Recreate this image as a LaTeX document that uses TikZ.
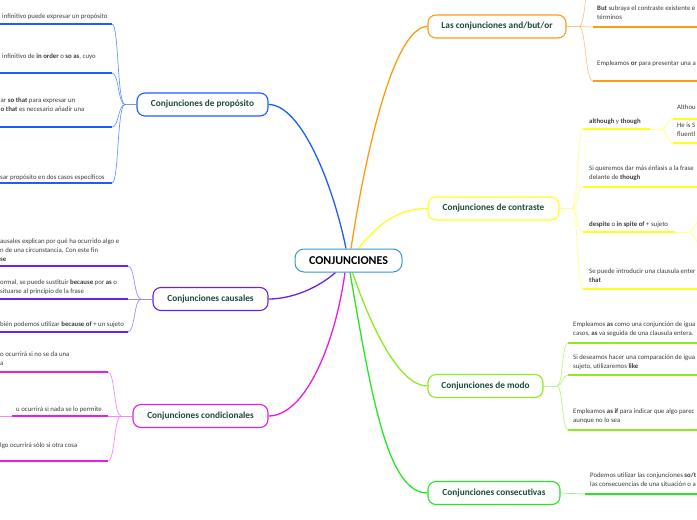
\documentclass[tikz,border=0pt]{standalone}
\usepackage{fontspec}
\setmainfont{Carlito}
\usetikzlibrary{backgrounds}
\definecolor{cblue}{HTML}{1F5BFF}
\definecolor{cbluel}{HTML}{6F95FF}
\definecolor{cpur}{HTML}{6A22E6}
\definecolor{cpurl}{HTML}{A986F2}
\definecolor{cmag}{HTML}{E41EE4}
\definecolor{cmagl}{HTML}{F58AF5}
\definecolor{corg}{HTML}{FF9A17}
\definecolor{corgl}{HTML}{FFC77A}
\definecolor{cyel}{HTML}{FFFF1E}
\definecolor{cyell}{HTML}{FFFF8A}
\definecolor{clim}{HTML}{8CEB21}
\definecolor{climl}{HTML}{BDF584}
\definecolor{cgrn}{HTML}{26E626}
\definecolor{cgrnl}{HTML}{8FF08F}
\definecolor{ccen}{HTML}{3A94D6}
\definecolor{ttext}{HTML}{1B4B3C}
\definecolor{btext}{HTML}{3C3C3C}
\begin{document}
\begin{tikzpicture}[x=1pt,y=-1pt,
  cen/.style={draw=ccen, line width=1pt, rounded corners=9pt, fill=white, inner sep=0pt,
    minimum width=107pt, minimum height=23pt, font=\fontsize{12}{14}\selectfont\bfseries, text=black},
  topic/.style={line width=1.1pt, rounded corners=8pt, fill=white, inner sep=0pt,
    minimum height=23pt, font=\fontsize{9.3}{11}\selectfont\bfseries, text=ttext},
  item/.style={anchor=north west, inner sep=0pt, align=left,
    font=\fontsize{6.8}{9}\selectfont, text=btext, execute at begin node=\strut},
  mainlink/.style={line width=1.3pt},
  sublink/.style={line width=0.7pt},
  uline/.style={line width=1.5pt},
]
\useasboundingbox (0,0) rectangle (697,520);
\clip (0,0) rectangle (697,520);

% central and topic nodes
\node[cen] (c) at (348.5,260.5) {CONJUNCIONES};
\node[topic, draw=cblue, minimum width=131pt] (prop) at (202.5,104.5) {Conjunciones de propósito};
\node[topic, draw=cpur, minimum width=115pt] (cau) at (210.5,299) {Conjunciones causales};
\node[topic, draw=cmag, minimum width=135pt] (cond) at (200.5,416) {Conjunciones condicionales};
\node[topic, draw=corg, minimum width=138pt] (abo) at (497,26.5) {Las conjunciones and/but/or};
\node[topic, draw=cyel, minimum width=131pt] (con) at (493.5,208.5) {Conjunciones de contraste};
\node[topic, draw=clim, minimum width=115pt] (modo) at (485.5,386) {Conjunciones de modo};
\node[topic, draw=cgrn, minimum width=132pt] (cons) at (494,493) {Conjunciones consecutivas};

% item texts
\node[item] (p1) at (2,12.2) {infinitivo puede expresar un propósito};
\node[item] (p2) at (2,52.2) {infinitivo de \textbf{in order} o \textbf{so as}, cuyo};
\node[item] (p3) at (0.5,97.2) {ar \textbf{so that} para expresar un\\\textbf{o that} es necesario añadir una};
\node[item] (p4) at (0,173.2) {sar propósito en dos casos específicos};

\node[item] (k1) at (0,238.2) {ausales explican por qué ha ocurrido algo e\\n de una circunstancia. Con este fin\\\textbf{se}};
\node[item] (k2) at (0,279.2) {ormal, se puede sustituir \textbf{because} por \textbf{as} o\\situarse al principio de la frase};
\node[item] (k3) at (0,320.2) {bién podemos utilizar \textbf{because of} + un sujeto};

\node[item] (d1) at (0,351.2) {o ocurrirá si no se da una\\a};
\node[item] (d2) at (16,405.2) {u ocurrirá si nada se lo permite};
\node[item] (d3) at (0,441.2) {lgo ocurrirá sólo si otra cosa};

\node[item] (o1) at (597,5.2) {\textbf{But} subraya el contraste existente e\\términos};
\node[item] (o2) at (597,59.2) {Empleamos \textbf{or} para presentar una a};

\node[item] (y1) at (589,117.2) {\textbf{although} y \textbf{though}};
\node[item] (y1a) at (677,103.2) {Althou};
\node[item] (y1b) at (677,122.2) {He is S\\fluentl};
\node[item] (y2) at (589,165.2) {Si queremos dar más énfasis a la frase\\delante de \textbf{though}};
\node[item] (y3) at (589,220.2) {\textbf{despite} o \textbf{in spite of} + sujeto};
\node[item] (y4) at (589,268.2) {Se puede introducir una clausula enter\\\textbf{that}};

\node[item] (m1) at (573,321.2) {Empleamos \textbf{as} como una conjunción de igua\\casos, \textbf{as} va seguida de una clausula entera.};
\node[item] (m2) at (573,354.2) {Si deseamos hacer una comparación de igua\\sujeto, utilizaremos \textbf{like}};
\node[item] (m3) at (573,408.2) {Empleamos \textbf{as if} para indicar que algo parec\\aunque no lo sea};

\node[item] (g1) at (590,472.2) {Podemos utilizar las conjunciones \textbf{so/t}\\las consecuencias de una situación o a};

% coordinates
\coordinate (pj) at (125,104.5);
\coordinate (p1e) at (112,24);  \coordinate (p1s) at (0,24);
\coordinate (p2e) at (112,73);  \coordinate (p2s) at (0,73);
\coordinate (p3e) at (112,127); \coordinate (p3s) at (0,127);
\coordinate (p4e) at (112,183); \coordinate (p4s) at (0,183);

\coordinate (kj) at (141,299);
\coordinate (k1e) at (128,266); \coordinate (k1s) at (0,266);
\coordinate (k2e) at (128,299); \coordinate (k2s) at (0,299);
\coordinate (k3e) at (128,332); \coordinate (k3s) at (0,332);

\coordinate (dj) at (121,416);
\coordinate (d1e) at (108,372); \coordinate (d1s) at (0,372);
\coordinate (d2e) at (108,416); \coordinate (d2s) at (12,416); \coordinate (d2x) at (0,416);
\coordinate (d3e) at (108,461); \coordinate (d3s) at (0,461);

\coordinate (oj) at (579,26.5);
\coordinate (o0s) at (593,-27);
\coordinate (o1s) at (593,27);  \coordinate (o1e) at (697,27);
\coordinate (o2s) at (593,81);  \coordinate (o2e) at (697,81);

\coordinate (yj) at (572,208.5);
\coordinate (y1s) at (583,129); \coordinate (y1e) at (650,129);
\coordinate (y1j) at (661,129);
\coordinate (y1as) at (673,119); \coordinate (y1ae) at (697,119);
\coordinate (y1bs) at (673,143); \coordinate (y1be) at (697,143);
\coordinate (y2s) at (583,187); \coordinate (y2e) at (697,187);
\coordinate (y3s) at (583,232); \coordinate (y3e) at (675,232);
\coordinate (y3j) at (688,232);
\coordinate (y3u) at (706,216); \coordinate (y3d) at (706,248);
\coordinate (y4s) at (583,289); \coordinate (y4e) at (697,289);

\coordinate (mj) at (557,386);
\coordinate (m1s) at (568,343); \coordinate (m1e) at (697,343);
\coordinate (m2s) at (568,375); \coordinate (m2e) at (697,375);
\coordinate (m3s) at (568,430); \coordinate (m3e) at (697,430);

\coordinate (g1s) at (585,494); \coordinate (g1e) at (697,494);

\begin{scope}[on background layer]
% main links
\draw[mainlink, cblue] ([xshift=-2.5pt]c.north) .. controls (332,180) and (300,104.5) .. (prop.east);
\draw[mainlink, corg] ([xshift=2.5pt]c.north) .. controls (370,125) and (398,26.5) .. (abo.west);
\draw[mainlink, cyel] ([xshift=10pt]c.north) .. controls (375,228) and (395,208.5) .. (con.west);
\draw[mainlink, cpur] ([xshift=-13pt]c.south) .. controls (318,288) and (292,299) .. (cau.east);
\draw[mainlink, cmag] ([xshift=-3.5pt]c.south) .. controls (335,345) and (305,416) .. (cond.east);
\draw[mainlink, clim] ([xshift=4pt]c.south) .. controls (372,330) and (400,386) .. (modo.west);
\draw[mainlink, cgrn] ([xshift=1.5pt]c.south) .. controls (372,400) and (388,493) .. (cons.west);

% proposito
\draw[sublink, cbluel] (prop.west) -- (pj);
\draw[sublink, cbluel] (pj) .. controls (117,104.5) and (119,24) .. (p1e);
\draw[sublink, cbluel] (pj) .. controls (118,104.5) and (119,73) .. (p2e);
\draw[sublink, cbluel] (pj) .. controls (118,104.5) and (119,127) .. (p3e);
\draw[sublink, cbluel] (pj) .. controls (117,104.5) and (119,183) .. (p4e);

% causales
\draw[sublink, cpurl] (cau.west) -- (kj);
\draw[sublink, cpurl] (kj) .. controls (134,299) and (135,266) .. (k1e);
\draw[sublink, cpurl] (kj) -- (k2e);
\draw[sublink, cpurl] (kj) .. controls (134,299) and (135,332) .. (k3e);

% condicionales
\draw[sublink, cmagl] (cond.west) -- (dj);
\draw[sublink, cmagl] (dj) .. controls (114,416) and (115,372) .. (d1e);
\draw[sublink, cmagl] (dj) -- (d2e);
\draw[sublink, cmagl] (dj) .. controls (114,416) and (115,461) .. (d3e);
\draw[sublink, cmagl] (d2x) -- (d2s);

% and/but/or
\draw[sublink, corgl] (abo.east) -- (oj);
\draw[sublink, corgl] (oj) .. controls (586,26.5) and (585,-27) .. (o0s);
\draw[sublink, corgl] (oj) -- (o1s);
\draw[sublink, corgl] (oj) .. controls (586,26.5) and (585,81) .. (o2s);

% contraste
\draw[sublink, cyell] (con.east) -- (yj);
\draw[sublink, cyell] (yj) .. controls (578,208.5) and (577,129) .. (y1s);
\draw[sublink, cyell] (yj) .. controls (578,208.5) and (577,187) .. (y2s);
\draw[sublink, cyell] (yj) .. controls (578,208.5) and (577,232) .. (y3s);
\draw[sublink, cyell] (yj) .. controls (578,208.5) and (577,289) .. (y4s);
\draw[sublink, cyell] (y1e) -- (y1j);
\draw[sublink, cyell] (y1j) .. controls (667,129) and (667,119) .. (y1as);
\draw[sublink, cyell] (y1j) .. controls (667,129) and (667,143) .. (y1bs);
\draw[sublink, cyell] (y3e) -- (y3j);
\draw[sublink, cyell] (y3j) .. controls (695,232) and (696,216) .. (y3u);
\draw[sublink, cyell] (y3j) .. controls (695,232) and (696,248) .. (y3d);

% modo
\draw[sublink, climl] (modo.east) -- (mj);
\draw[sublink, climl] (mj) .. controls (563,386) and (562,343) .. (m1s);
\draw[sublink, climl] (mj) .. controls (563,386) and (562,375) .. (m2s);
\draw[sublink, climl] (mj) .. controls (563,386) and (562,430) .. (m3s);

% consecutivas
\draw[sublink, cgrnl] (cons.east) -- (g1s);

% underlines
\draw[uline, cblue] (p1s) -- (p1e);
\draw[uline, cblue] (p2s) -- (p2e);
\draw[uline, cblue] (p3s) -- (p3e);
\draw[uline, cblue] (p4s) -- (p4e);
\draw[uline, cpur] (k1s) -- (k1e);
\draw[uline, cpur] (k2s) -- (k2e);
\draw[uline, cpur] (k3s) -- (k3e);
\draw[uline, cmag] (d1s) -- (d1e);
\draw[uline, cmag] (d2s) -- (d2e);
\draw[uline, cmag] (d3s) -- (d3e);
\draw[uline, corg] (o1s) -- (o1e);
\draw[uline, corg] (o2s) -- (o2e);
\draw[uline, cyel] (y1s) -- (y1e);
\draw[uline, cyel] (y1as) -- (y1ae);
\draw[uline, cyel] (y1bs) -- (y1be);
\draw[uline, cyel] (y2s) -- (y2e);
\draw[uline, cyel] (y3s) -- (y3e);
\draw[uline, cyel] (y4s) -- (y4e);
\draw[uline, clim] (m1s) -- (m1e);
\draw[uline, clim] (m2s) -- (m2e);
\draw[uline, clim] (m3s) -- (m3e);
\draw[uline, cgrn] (g1s) -- (g1e);
\end{scope}
\end{tikzpicture}
\end{document}
